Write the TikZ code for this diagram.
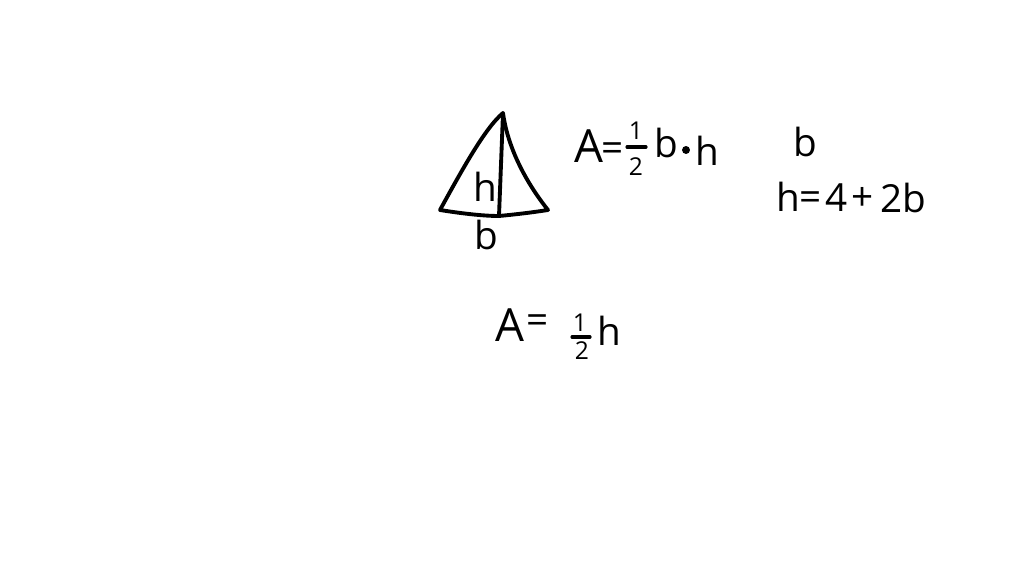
\documentclass[tikz,border=0pt]{standalone}
\usepackage{fontspec}
\setmainfont{Open Sans}

\begin{document}
\begin{tikzpicture}[x=0.01cm, y=-0.01cm, pen/.style = {line width=1.1pt, line cap=round, line join=round}, hand/.style = {inner sep=0pt, font=\fontsize{11}{13}\selectfont}, big/.style = {inner sep=0pt, font=\fontsize{13}{15}\selectfont}, tiny/.style = {inner sep=0pt, font=\fontsize{7}{8}\selectfont}]
\useasboundingbox (0,0) rectangle (1024,576);
% triangle
\coordinate (top) at (503,113);
\coordinate (left) at (440,210);
\coordinate (right) at (548,210);
\coordinate (foot) at (499,216);
\draw[pen] (top) .. controls (485,128) and (462,170) .. (left) .. controls (465,214) and (485,216) .. (foot) .. controls (520,214) and (535,212) .. (right) .. controls (528,185) and (508,150) .. (top);
\draw[pen] (top) -- (foot);
\node[hand] (hlbl) at (485,187) {h};
\node[hand] (blbl) at (486,235) {b};
% A = 1/2 b . h
\node[big] (a1) at (589,146) {A};
\node[hand] (eq1) at (613,152) {=};
\node[tiny] (num1) at (636,131) {1};
\coordinate (bar1l) at (627,147);
\coordinate (bar1r) at (646,147);
\draw[pen, line width=0.9pt] (bar1l) -- (bar1r);
\node[tiny] (den1) at (636,167) {2};
\node[hand] (b1) at (666,143) {b};
\node[circle, fill, inner sep=0.8pt] (dot1) at (686,150) {};
\node[hand] (h1) at (707,151) {h};
% b, h = 4 + 2b
\node[hand] (bvar) at (805,142) {b};
\node[hand] (h2) at (788,197) {h};
\node[hand] (eq2) at (811,201) {=};
\node[hand] (four) at (837,198) {4};
\node[hand] (plus) at (863,199) {+};
\node[hand] (twob) at (903,198) {2b};
% A = 1/2 h
\node[big] (a2) at (510,325) {A};
\node[hand] (eq3) at (538,324) {=};
\node[tiny] (num2) at (580,323) {1};
\coordinate (bar2l) at (572,337);
\coordinate (bar2r) at (590,337);
\draw[pen, line width=0.9pt] (bar2l) -- (bar2r);
\node[tiny] (den2) at (582,351) {2};
\node[hand] (h3) at (609,331) {h};
\end{tikzpicture}
\end{document}
